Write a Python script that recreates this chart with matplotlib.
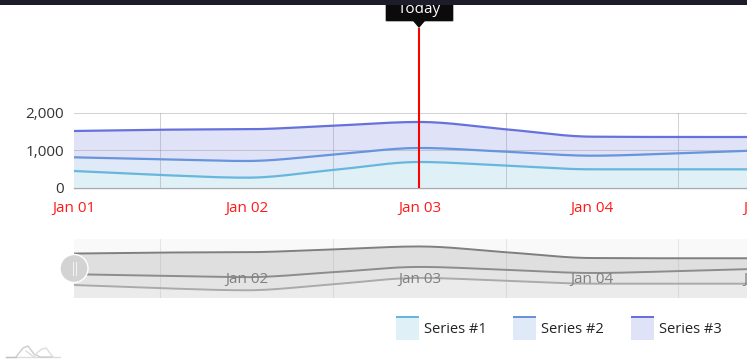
import numpy as np
import matplotlib
matplotlib.use("Agg")
import matplotlib.pyplot as plt
from matplotlib.patches import Circle, Rectangle, Polygon, FancyBboxPatch

plt.rcParams['font.family'] = ['Open Sans', 'DejaVu Sans']

W, H = 747, 362

# Data (half-day steps from Jan 01)
days = [0, 0.5, 1, 1.5, 2, 2.5, 3, 3.5, 4]
series1 = [440, 333, 262, 467, 680, 582, 485, 485, 485]
series2 = [365, 419, 445, 408, 373, 373, 363, 427, 510]
series3 = [702, 789, 845, 773, 694, 597, 507, 435, 352]
series_names = ['Series #1', 'Series #2', 'Series #3']
tick_days = [0, 1, 2, 3, 4]
tick_labels = ['Jan 01', 'Jan 02', 'Jan 03', 'Jan 04', 'Jan 05']
y_ticks = [0, 1000, 2000]
y_labels = ['0', '1,000', '2,000']
today_day = 2
today_label = 'Today'

colors = ['#67b7dc', '#6794dc', '#6771dc']
fills = ['#dff0f7', '#e0e9f8', '#e0e2f7']
nav_lines = ['#aaaaaa', '#8c8c8c', '#7f7f7f']
nav_fills = ['#ebebeb', '#e4e4e4', '#dfdfdf']


def monotone(x, y, n=24):
    """Monotone cubic curve through the read values, as the chart smooths them."""
    x, y = np.asarray(x, float), np.asarray(y, float)
    h = np.diff(x)
    s = np.diff(y) / h
    m = np.zeros_like(y)
    for i in range(1, len(y) - 1):
        if s[i - 1] * s[i] > 0:
            m[i] = 2 * s[i - 1] * s[i] / (s[i - 1] + s[i])
    m[0], m[-1] = s[0], s[-1]
    xs, ys = [], []
    for i in range(len(h)):
        t = np.linspace(0, 1, n, endpoint=False)
        xs.append(x[i] + t * h[i])
        ys.append((2*t**3 - 3*t**2 + 1) * y[i] + (t**3 - 2*t**2 + t) * h[i] * m[i]
                  + (-2*t**3 + 3*t**2) * y[i + 1] + (t**3 - t**2) * h[i] * m[i + 1])
    return np.concatenate(xs + [[x[-1]]]), np.concatenate(ys + [[y[-1]]])


stack = np.cumsum([series1, series2, series3], axis=0)
curves = [monotone(days, row) for row in stack]

fig = plt.figure(figsize=(W / 100, H / 100), dpi=100)
fig.patch.set_facecolor('white')


def axes_px(x0, y0, x1, y1):
    return fig.add_axes([x0 / W, 1 - y1 / H, (x1 - x0) / W, (y1 - y0) / H])


# Top bar
fig.add_artist(Rectangle((0, 1 - 5 / H), 1, 5 / H, transform=fig.transFigure,
                         facecolor='#1d1d29', edgecolor='none', zorder=20))

# Main chart
PX_DAY = 172.7
XMAX = (W - 74) / PX_DAY
ax = axes_px(74, 112.5, W, 187.5)
ax.patch.set_alpha(0)
for sp in ax.spines.values():
    sp.set_visible(False)

base = np.zeros_like(curves[0][1])
for (cx, cy), col, fc in zip(curves, colors, fills):
    ax.fill_between(cx, base, cy, facecolor=fc, edgecolor='none', zorder=1)
    base = cy
for yt in y_ticks[1:]:
    ax.axhline(yt, color='#8c8c96', alpha=0.38, lw=0.75, zorder=2, clip_on=False)
for d in days[1::2]:
    ax.axvline(d, color='#8c8c96', alpha=0.38, lw=0.75, zorder=2)
ax.axhline(0, color='#a3abb3', lw=1.0, zorder=3, clip_on=False)
for (cx, cy), col in zip(curves, colors):
    ax.plot(cx, cy, color=col, lw=1.6, zorder=4, solid_capstyle='butt')

ax.set_xticks(tick_days[:-1])
ax.set_xticklabels(tick_labels[:-1], color='#ff1a1a', fontsize=11)
ax.set_yticks(y_ticks)
ax.set_yticklabels(y_labels, color='#333333', fontsize=11)
ax.tick_params(axis='x', length=0, pad=9.5)
ax.tick_params(axis='y', length=0, pad=7)
ax.set_xlim(0, XMAX)
ax.set_ylim(0, 2000)
# The last date label runs off the right edge, as in the reference
ax.annotate(tick_labels[-1], (tick_days[-1], 0), xycoords=ax.get_xaxis_transform(),
            xytext=(0, -9.5), textcoords='offset points', ha='center', va='top',
            color='#ff1a1a', fontsize=11, annotation_clip=False)

# Today marker and tooltip
tf = ax.get_xaxis_transform()
px_up = 159.5 / 75
ax.plot([today_day, today_day], [0, px_up], transform=tf, color='#ff0000', lw=1.5,
        clip_on=False, zorder=6, solid_capstyle='butt')
ax.add_patch(FancyBboxPatch((385.5 / W, 1 - 21.5 / H), 68 / W, 30 / H,
                            boxstyle='round,pad=0,rounding_size=0.003',
                            transform=fig.transFigure, facecolor='#0b0b0b',
                            edgecolor='#bbbbbb', lw=0.6, clip_on=False, zorder=7))
ax.add_patch(Polygon([(413 / W, 1 - 21 / H), (425 / W, 1 - 21 / H), (419 / W, 1 - 28 / H)],
                     transform=fig.transFigure, facecolor='#0b0b0b', edgecolor='none',
                     clip_on=False, zorder=8))
fig.text(419 / W, 1 - 13 / H, today_label, color='white', fontsize=11,
         ha='center', va='baseline', zorder=9)

# Navigator
nav = axes_px(74, 239, W, 298)
nav.set_facecolor('#f9f9f9')
for sp in nav.spines.values():
    sp.set_visible(False)
nav.set_xticks([])
nav.set_yticks([])
base = np.zeros_like(curves[0][1])
for (cx, cy), fc in zip(curves, nav_fills):
    nav.fill_between(cx, base, cy, facecolor=fc, edgecolor='none', zorder=1)
    base = cy
for d in days[1::2]:
    nav.axvline(d, color='#8c8c8c', alpha=0.18, lw=0.75, zorder=2)
for (cx, cy), col in zip(curves, nav_lines):
    nav.plot(cx, cy, color=col, lw=1.4, zorder=3)
nav.set_xlim(0, XMAX)
nav.set_ylim(0, 2000)
for d, lab in zip(tick_days[1:], tick_labels[1:]):
    nav.annotate(lab, (d, 0), xytext=(0, 15), textcoords='offset pixels',
                 ha='center', va='baseline', color='#808080', fontsize=11,
                 annotation_clip=False, zorder=5)

# Scrollbar grip
fig.add_artist(Circle((74, H - 268.5), 14, transform=None, facecolor='#d3d3d3',
                      edgecolor='white', lw=1, zorder=10))
for gx in (72.5, 75.5):
    fig.add_artist(plt.Line2D([gx, gx], [H - 262, H - 275], transform=None,
                              color='#f2f2f2', lw=0.75, zorder=11))

# Legend
for sx, name, col, fc in zip((396, 513, 631), series_names, colors, fills):
    fig.add_artist(Rectangle((sx, H - 340), 23, 24, transform=None, facecolor=fc,
                             edgecolor='none'))
    fig.add_artist(Rectangle((sx, H - 318), 23, 2, transform=None, facecolor=col,
                             edgecolor='none'))
    fig.text((sx + 28) / W, 1 - 333 / H, name, color='#222222', fontsize=10.5,
             ha='left', va='baseline')

# Small logo, bottom left
fig.add_artist(plt.Line2D([6, 60], [H - 357, H - 357], transform=None, color='#dddddd', lw=1))
fig.add_artist(plt.Line2D([6, 16], [H - 357, H - 357], transform=None, color='#c0c0c0', lw=1))
fig.add_artist(plt.Line2D([16, 23, 28, 34, 40, 44, 52],
                          [H - 357, H - 348, H - 346, H - 354, H - 357, H - 357, H - 357],
                          transform=None, color='#cccccc', lw=1))
fig.add_artist(plt.Line2D([26, 34, 38, 42, 46, 53],
                          [H - 351, H - 357, H - 352, H - 349, H - 348, H - 357],
                          transform=None, color='#dddddd', lw=1))

fig.savefig('out.png', dpi=100)
